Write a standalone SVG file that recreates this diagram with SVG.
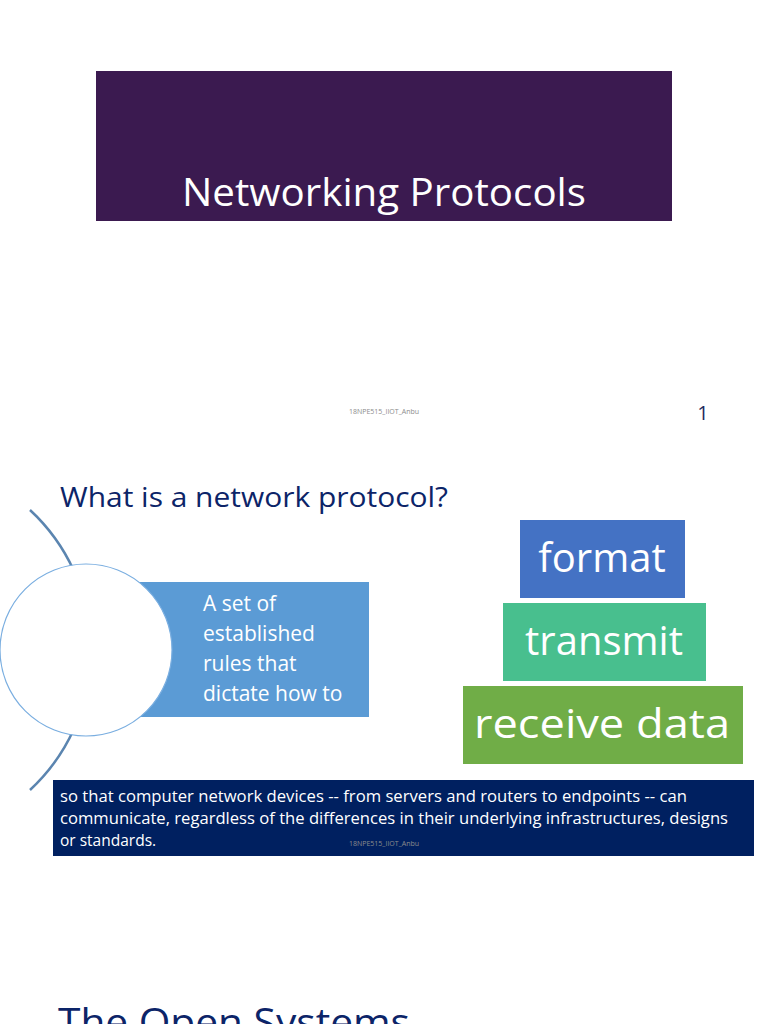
<svg xmlns="http://www.w3.org/2000/svg" width="768" height="1024" viewBox="0 0 768 1024">
<style>
text{font-family:"Open Sans","Noto Sans",sans-serif}
.w{fill:#fff}
.ft{font-size:7px;fill:#8c8c8c}
</style>
<rect width="768" height="1024" fill="#fff"/>
<g id="title"><rect x="96" y="71" width="576" height="150" fill="#3b1a50"/>
<text x="384" y="206" text-anchor="middle" font-size="38" class="w" textLength="404" lengthAdjust="spacingAndGlyphs">Networking Protocols</text></g>
<text x="384" y="414" text-anchor="middle" class="ft">18NPE515_IIOT_Anbu</text>
<text x="703" y="420" text-anchor="middle" font-size="20" fill="#1f2a60">1</text>
<text x="60" y="507" font-size="28" fill="#0c2468" textLength="388" lengthAdjust="spacingAndGlyphs">What is a network protocol?</text>
<g id="arc"><path d="M30,510 A191,191 0 0 1 30,790" fill="none" stroke="#5b85b0" stroke-width="2.5"/></g>
<g id="def"><rect x="138" y="582" width="231" height="135" fill="#5b9bd5"/>
<circle cx="86" cy="650" r="86" fill="#fff" stroke="#7aaee0" stroke-width="1.2"/>
<text font-size="21" class="w"><tspan x="203" y="611">A set of</tspan><tspan x="203" y="641">established</tspan><tspan x="203" y="671">rules that</tspan><tspan x="203" y="701">dictate how to</tspan></text></g>
<g id="format"><rect x="520" y="520" width="165" height="78" fill="#4472c4"/><text x="602" y="572" text-anchor="middle" font-size="40" class="w">format</text></g>
<g id="transmit"><rect x="503" y="603" width="203" height="78" fill="#48bf8e"/><text x="604" y="655" text-anchor="middle" font-size="40" class="w">transmit</text></g>
<g id="receive"><rect x="463" y="686" width="280" height="78" fill="#70ad47"/><text x="602" y="738" text-anchor="middle" font-size="40" class="w" textLength="256" lengthAdjust="spacingAndGlyphs">receive data</text></g>
<g id="note"><rect x="53" y="780" width="701" height="76" fill="#002060"/>
<text font-size="15.5" class="w"><tspan x="60" y="802" textLength="627" lengthAdjust="spacingAndGlyphs">so that computer network devices -- from servers and routers to endpoints -- can</tspan><tspan x="60" y="824" textLength="668" lengthAdjust="spacingAndGlyphs">communicate, regardless of the differences in their underlying infrastructures, designs</tspan><tspan x="60" y="846">or standards.</tspan></text>
<text x="384" y="846" text-anchor="middle" class="ft" fill="#aab">18NPE515_IIOT_Anbu</text></g>
<text x="58" y="1036" font-size="38" fill="#0c2468" textLength="352" lengthAdjust="spacingAndGlyphs">The Open Systems</text>
</svg>
